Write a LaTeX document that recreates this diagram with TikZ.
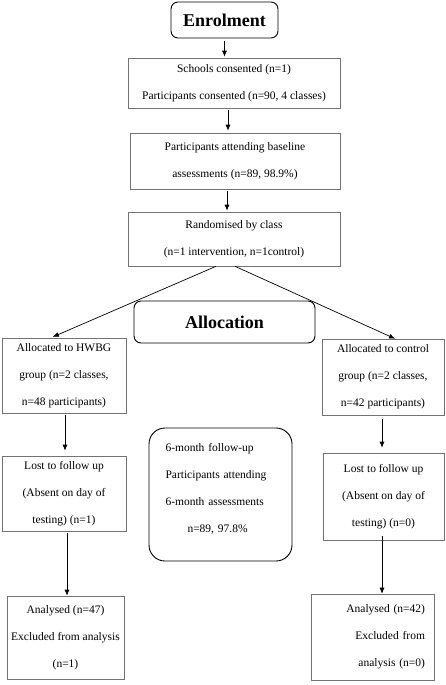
\documentclass[tikz,border=0pt]{standalone}
\usepackage{fontspec}
\setmainfont{Liberation Serif}
\usepackage{tikz}
\usetikzlibrary{calc,arrows.meta}

\begin{document}
\begin{tikzpicture}[x=1pt,y=-1pt,
	stage/.style={draw=black,line width=0.9pt,rounded corners=7pt,font=\fontsize{18}{20}\selectfont\bfseries,inner sep=0pt},
	box/.style={draw=black!55,line width=0.6pt,inner sep=0pt,align=center,font=\fontsize{11.5}{27}\selectfont},
	arr/.style={-{Latex[length=6pt,width=5pt]},line width=0.7pt}]
	\useasboundingbox (0,0) rectangle (445,685);
	\node(enrol)[stage,minimum width=107pt,minimum height=36pt] at (224.5,20) {Enrolment};
	\node(consent)[box,minimum width=212pt,minimum height=50pt] at (234,83)
		{Schools consented (n=1)\\Participants consented (n=90, 4 classes)};
	\node(baseline)[box,minimum width=210pt,minimum height=56pt] at (235,161)
		{Participants attending baseline\\assessments (n=89, 98.9\%)};
	\node(random)[box,minimum width=212pt,minimum height=54pt] at (234,239)
		{Randomised by class\\(n=1 intervention, n=1control)};
	\node(alloc)[stage,minimum width=181pt,minimum height=42pt] at (224.5,322) {Allocation};
	% intervention arm
	\node(hwbg)[box,minimum width=124pt,minimum height=75pt] at (64,375.5)
		{Allocated to HWBG\\group (n=2 classes,\\n=48 participants)};
	\node(lostA)[box,minimum width=124pt,minimum height=75pt] at (64,493.5)
		{Lost to follow up\\(Absent on day of\\testing) (n=1)};
	\node(anaA)[box,minimum width=117pt,minimum height=83pt] at (65.5,637.5)
		{Analysed (n=47)\\Excluded from analysis\\(n=1)};
	% control arm
	\node(ctrl)[box,minimum width=122pt,minimum height=76pt] at (383,377)
		{Allocated to control\\group (n=2 classes,\\n=42 participants)};
	\node(lostB)[box,minimum width=121pt,minimum height=87pt] at (383.5,496.5)
		{Lost to follow up\\(Absent on day of\\testing) (n=0)};
	\node(anaB)[box,minimum width=123pt,minimum height=86pt,text width=105pt,align=right] at (372.5,637)
		{Analysed (n=42)\\Excluded from\\analysis (n=0)};
	% follow-up
	\node(follow)[box,draw=black,line width=0.9pt,rounded corners=16pt,minimum width=143pt,minimum height=133pt,text width=110pt,align=left] at (220.5,494.5)
		{6-month follow-up\\Participants attending\\6-month assessments\\\hspace*{22pt}n=89, 97.8\%\\[-14pt]\mbox{}};

	\draw[arr,shorten <=3pt,shorten >=1pt] (enrol.south) -- (enrol.south |- consent.north);
	\draw[arr,shorten <=2pt,shorten >=2pt] ([xshift=-6pt]consent.south) -- ([xshift=-6pt]consent.south |- baseline.north);
	\draw[arr,shorten <=2pt,shorten >=1pt] ([xshift=-8pt]baseline.south) -- ([xshift=-8pt]baseline.south |- random.north);
	\draw[arr,shorten >=2pt] ([xshift=-18pt]random.south) -- ([xshift=-13pt]hwbg.north);
	\draw[arr] ([xshift=1pt]random.south) -- ([xshift=12pt]ctrl.north);
	\draw[arr,shorten <=2pt,shorten >=5pt] ([xshift=1pt]hwbg.south) -- ([xshift=1pt]hwbg.south |- lostA.north);
	\draw[arr,shorten <=4pt,shorten >=5pt] ([xshift=-1pt]ctrl.south) -- ([xshift=-1pt]ctrl.south |- lostB.north);
	\draw[arr,shorten <=2pt] ([xshift=3pt]lostA.south) -- ([xshift=3pt]lostA.south |- anaA.north);
	\draw[arr,shorten <=-4pt] ([xshift=-1.5pt]lostB.south) -- ([xshift=-1.5pt]lostB.south |- anaB.north);
\end{tikzpicture}
\end{document}
